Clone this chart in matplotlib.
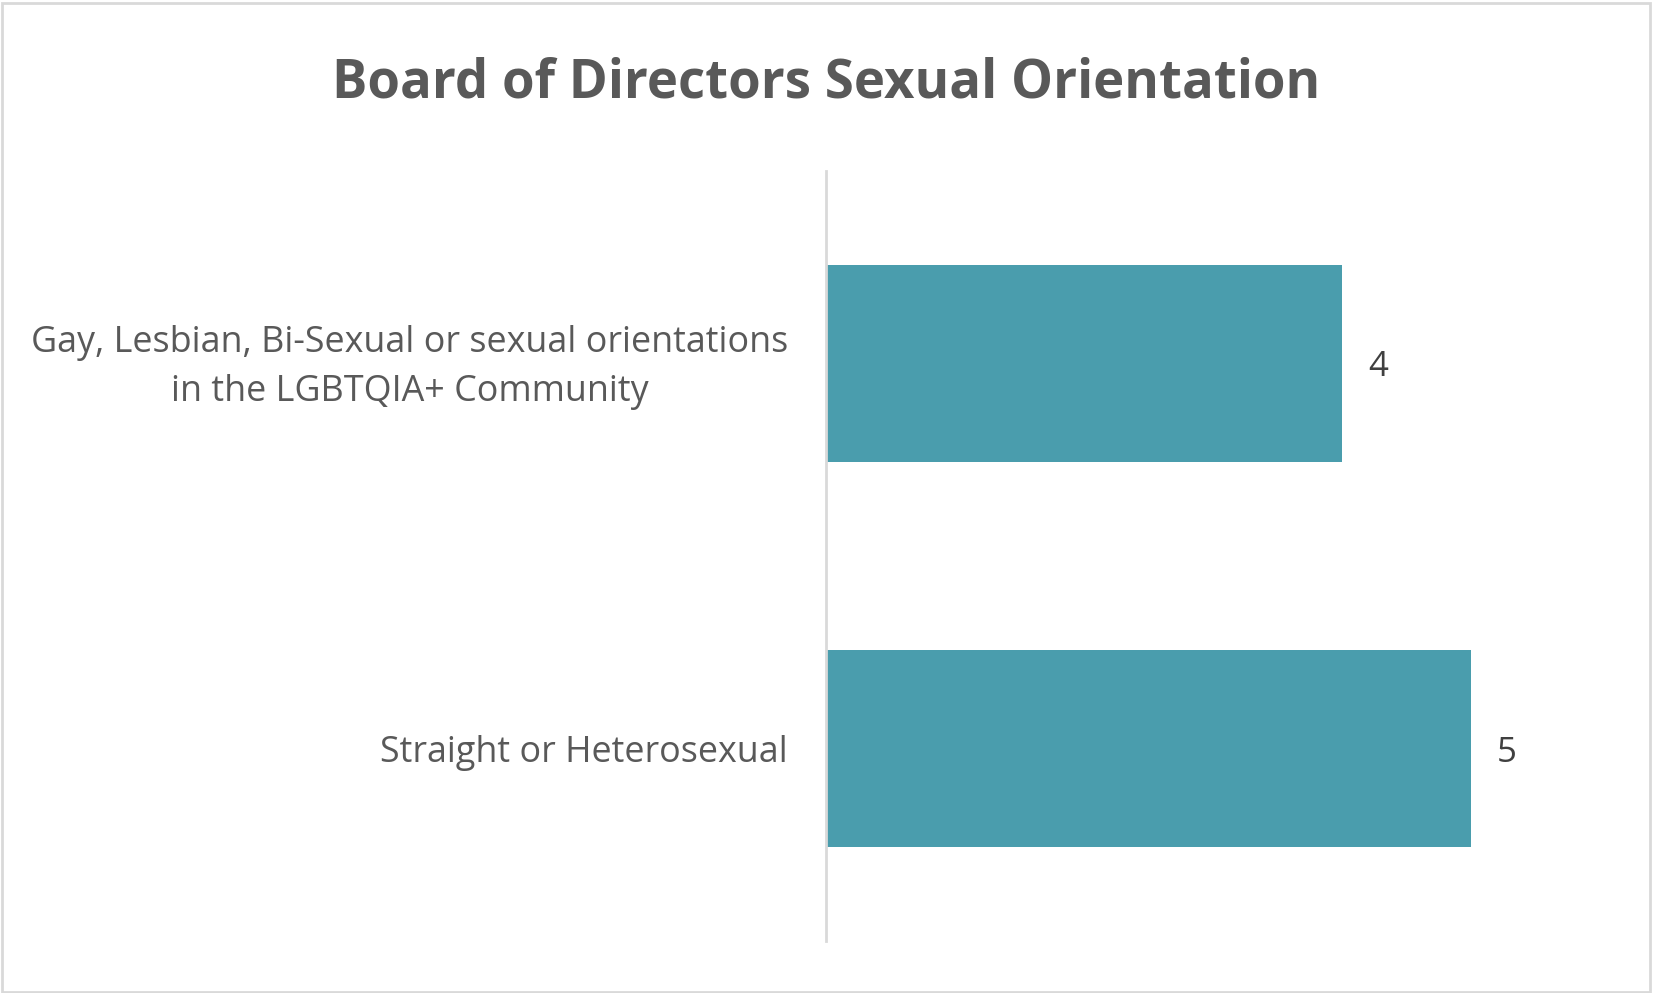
import matplotlib
matplotlib.use("Agg")
import matplotlib.pyplot as plt
from matplotlib.patches import Rectangle

# data
categories = ["Gay, Lesbian, Bi-Sexual or sexual orientations\nin the LGBTQIA+ Community",
              "Straight or Heterosexual"]
counts = [4, 5]
title = "Board of Directors Sexual Orientation"

bar_color = "#4A9DAD"
text_color = "#595959"
line_color = "#D9D9D9"

plt.rcParams["font.family"] = ["Open Sans", "DejaVu Sans"]

W, H = 1653, 993
fig = plt.figure(figsize=(W / 100, H / 100), dpi=100)
fig.patch.set_facecolor("white")

# light grey chart border
fig.patches.append(Rectangle((0.001, 0.001), 0.997, 0.996, transform=fig.transFigure,
                             fill=False, edgecolor=line_color, linewidth=2))

ax = fig.add_axes([826 / W, (H - 941) / H, (1600 - 826) / W, (941 - 171) / H])
ypos = list(range(len(categories)))
bars = ax.barh(ypos, counts, height=0.512, color=bar_color)
ax.set_xlim(0, 6)
ax.set_ylim(-0.5, len(categories) - 0.5)
ax.invert_yaxis()
ax.set_yticks([])
ax.set_xticks([])

# category labels, right aligned left of the axis line
for y, name in zip(ypos, categories):
    ax.text(-38 / 774, y + 0.011, name, transform=ax.get_yaxis_transform(),
            ha="right", va="center", multialignment="center", linespacing=1.5,
            fontsize=25.8, color=text_color)

for side in ["top", "right", "bottom"]:
    ax.spines[side].set_visible(False)
ax.spines["left"].set_color(line_color)
ax.spines["left"].set_linewidth(2)

for b, v in zip(bars, counts):
    ax.text(b.get_width() + 0.2, b.get_y() + b.get_height() / 2, str(v),
            va="center_baseline", ha="left", fontsize=25, color="#404040")

fig.text(826 / W, (H - 84) / H, title, ha="center", va="center",
         fontsize=38, fontweight="bold", color=text_color)

fig.savefig("out.png", dpi=100)
